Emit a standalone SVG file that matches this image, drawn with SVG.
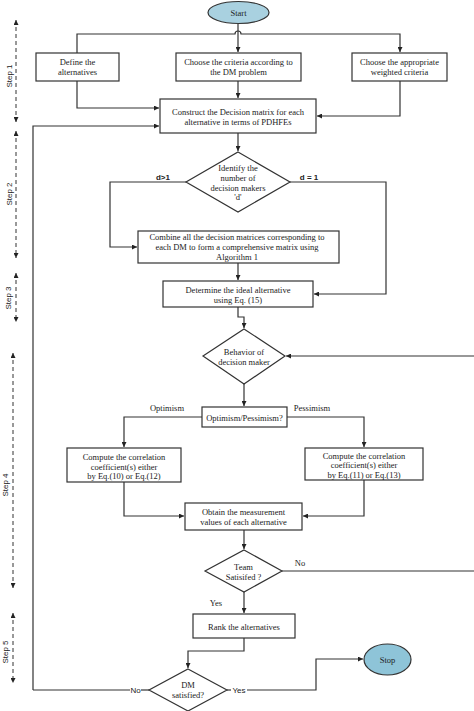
<svg xmlns="http://www.w3.org/2000/svg" width="474" height="711" viewBox="0 0 474 711">
<defs>
<marker id="ah" viewBox="0 0 10 10" refX="10" refY="5" markerWidth="5" markerHeight="5" orient="auto-start-reverse" markerUnits="userSpaceOnUse">
<path d="M0,0 L10,5 L0,10 Z" fill="#222"/>
</marker>
<style>
.box{fill:#fff;stroke:#333;stroke-width:1.2}
.t{font-family:"Liberation Serif","Times New Roman",serif;font-size:8.5px;fill:#222;text-anchor:middle}
.s{font-family:"Liberation Sans",Arial,sans-serif;font-size:8px;fill:#222;text-anchor:middle}
.c{fill:none;stroke:#333;stroke-width:1.2}
.d{fill:none;stroke:#333;stroke-width:1;stroke-dasharray:4,3}
</style>
</defs>
<rect width="474" height="711" fill="#fff"/>

<g id="steps">
<line class="d" x1="16" y1="20" x2="16" y2="122" marker-start="url(#ah)" marker-end="url(#ah)"/>
<text class="s" transform="translate(12,76) rotate(-90)">Step 1</text>
<line class="d" x1="16" y1="131" x2="16" y2="258" marker-start="url(#ah)" marker-end="url(#ah)"/>
<text class="s" transform="translate(12,194) rotate(-90)">Step 2</text>
<line class="d" x1="16" y1="273" x2="16" y2="322" marker-start="url(#ah)" marker-end="url(#ah)"/>
<text class="s" transform="translate(11,298) rotate(-90)">Step 3</text>
<line class="d" x1="13" y1="353" x2="13" y2="588" marker-start="url(#ah)" marker-end="url(#ah)"/>
<text class="s" transform="translate(8,485) rotate(-90)">Step 4</text>
<line class="d" x1="13" y1="613" x2="13" y2="683" marker-start="url(#ah)" marker-end="url(#ah)"/>
<text class="s" transform="translate(8,652) rotate(-90)">Step 5</text>
</g>

<g id="connectors">
<path class="c" d="M77,53 V34 H235 A3,3 0 0 1 241,34 H400 V52" marker-end="url(#ah)"/>
<path class="c" d="M238,24 V52" marker-end="url(#ah)"/>
<path class="c" d="M77,81 V108 H159" marker-end="url(#ah)"/>
<path class="c" d="M238,81 V98" marker-end="url(#ah)"/>
<path class="c" d="M400,81 V116 H317" marker-end="url(#ah)"/>
<path class="c" d="M33,690 V126 H159" marker-end="url(#ah)"/>
<path class="c" d="M238,133 V151" marker-end="url(#ah)"/>
<path class="c" d="M186,182 H110 V247 H137" marker-end="url(#ah)"/>
<path class="c" d="M290,182 H386 V294 H314" marker-end="url(#ah)"/>
<path class="c" d="M238,263 V280" marker-end="url(#ah)"/>
<path class="c" d="M238,307 V317 H244 V328" marker-end="url(#ah)"/>
<path class="c" d="M474,356 H286" marker-end="url(#ah)"/>
<path class="c" d="M244,384 V406" marker-end="url(#ah)"/>
<path class="c" d="M202,417 H124 V447" marker-end="url(#ah)"/>
<path class="c" d="M287,417 H364 V447" marker-end="url(#ah)"/>
<path class="c" d="M124,482 V516 H184" marker-end="url(#ah)"/>
<path class="c" d="M364,480 V516 H303" marker-end="url(#ah)"/>
<path class="c" d="M244,530 V549" marker-end="url(#ah)"/>
<path class="c" d="M282,571 H474"/>
<path class="c" d="M244,592 V613" marker-end="url(#ah)"/>
<path class="c" d="M244,638 V651 H188 V668" marker-end="url(#ah)"/>
<path class="c" d="M130,690 H33"/>
<path class="c" d="M141,690 H149"/>
<path class="c" d="M227,690 H231"/>
<path class="c" d="M247,690 H316 V659 H363" marker-end="url(#ah)"/>
<text class="s" x="163" y="180" font-weight="bold">d&gt;1</text>
<text class="s" x="309" y="180" font-weight="bold">d = 1</text>
<text class="t" x="167" y="411">Optimism</text>
<text class="t" x="312" y="411">Pessimism</text>
<text class="t" x="300" y="566">No</text>
<text class="t" x="216" y="606">Yes</text>
<text class="s" x="135.5" y="693">No</text>
<text class="s" x="239" y="693">Yes</text>
</g>

<g id="start">
<ellipse cx="238.5" cy="12.5" rx="30.5" ry="11" fill="#a9d1e0" stroke="#333" stroke-width="1.2"/>
<text class="t" x="238.5" y="16" font-size="9">Start</text>
</g>

<g id="define">
<rect class="box" x="36" y="53" width="83" height="28"/>
<text class="t" x="77.5" y="65">Define the</text>
<text class="t" x="77.5" y="75">alternatives</text>
</g>

<g id="criteria">
<rect class="box" x="176" y="53" width="125" height="28"/>
<text class="t" x="238.5" y="65">Choose the criteria according to</text>
<text class="t" x="238.5" y="75">the DM problem</text>
</g>

<g id="weighted">
<rect class="box" x="352" y="53" width="95" height="28"/>
<text class="t" x="399.5" y="65">Choose the appropriate</text>
<text class="t" x="399.5" y="75">weighted criteria</text>
</g>

<g id="construct">
<rect class="box" x="160" y="99" width="156" height="34"/>
<text class="t" x="238" y="115">Construct the Decision matrix for each</text>
<text class="t" x="238" y="125">alternative in terms of PDHFEs</text>
</g>

<g id="identify">
<polygon class="box" points="238,152 290,182 238,212 186,182"/>
<text class="t" x="238" y="171">Identify the</text>
<text class="t" x="238" y="181">number of</text>
<text class="t" x="238" y="190.5">decision makers</text>
<text class="t" x="238" y="200">'d'</text>
</g>

<g id="combine">
<rect class="box" x="138" y="231" width="201" height="32"/>
<text class="t" x="237" y="240">Combine all the decision matrices corresponding to</text>
<text class="t" x="237" y="250">each DM to form a comprehensive matrix using</text>
<text class="t" x="237" y="259.5">Algorithm 1</text>
</g>

<g id="determine">
<rect class="box" x="163" y="281" width="150" height="26"/>
<text class="t" x="238" y="293">Determine the ideal alternative</text>
<text class="t" x="238" y="303">using Eq. (15)</text>
</g>

<g id="behavior">
<polygon class="box" points="244,329 285,356 244,384 203,356"/>
<text class="t" x="244" y="355">Behavior of</text>
<text class="t" x="244" y="365">decision maker</text>
</g>

<g id="optpess">
<rect class="box" x="202" y="407" width="85" height="20"/>
<text class="t" x="244.5" y="420.5">Optimism/Pessimism?</text>
</g>

<g id="compute-opt">
<rect class="box" x="67" y="448" width="114" height="34"/>
<text class="t" x="124" y="460">Compute the correlation</text>
<text class="t" x="124" y="469.5">coefficient(s) either</text>
<text class="t" x="124" y="479">by Eq.(10) or Eq.(12)</text>
</g>

<g id="compute-pess">
<rect class="box" x="305" y="448" width="118" height="32"/>
<text class="t" x="364" y="459">Compute the correlation</text>
<text class="t" x="364" y="468">coefficient(s) either</text>
<text class="t" x="364" y="478">by Eq.(11) or Eq.(13)</text>
</g>

<g id="obtain">
<rect class="box" x="185" y="503" width="117" height="27"/>
<text class="t" x="243.5" y="515">Obtain the measurement</text>
<text class="t" x="243.5" y="525">values of each alternative</text>
</g>

<g id="team">
<polygon class="box" points="244,550 282,571 244,592 205,571"/>
<text class="t" x="243.5" y="570">Team</text>
<text class="t" x="243.5" y="580">Satisifed ?</text>
</g>

<g id="rank">
<rect class="box" x="193" y="614" width="102" height="24"/>
<text class="t" x="244" y="630">Rank the alternatives</text>
</g>

<g id="dm">
<polygon class="box" points="188,669 227,690 188,711 149,690"/>
<text class="t" x="188" y="688">DM</text>
<text class="t" x="188" y="698">satisfied?</text>
</g>

<g id="stop">
<ellipse cx="387.5" cy="659.5" rx="23.5" ry="15.5" fill="#8ec4d8" stroke="#333" stroke-width="1.2"/>
<text class="t" x="387.5" y="662.5">Stop</text>
</g>
</svg>
